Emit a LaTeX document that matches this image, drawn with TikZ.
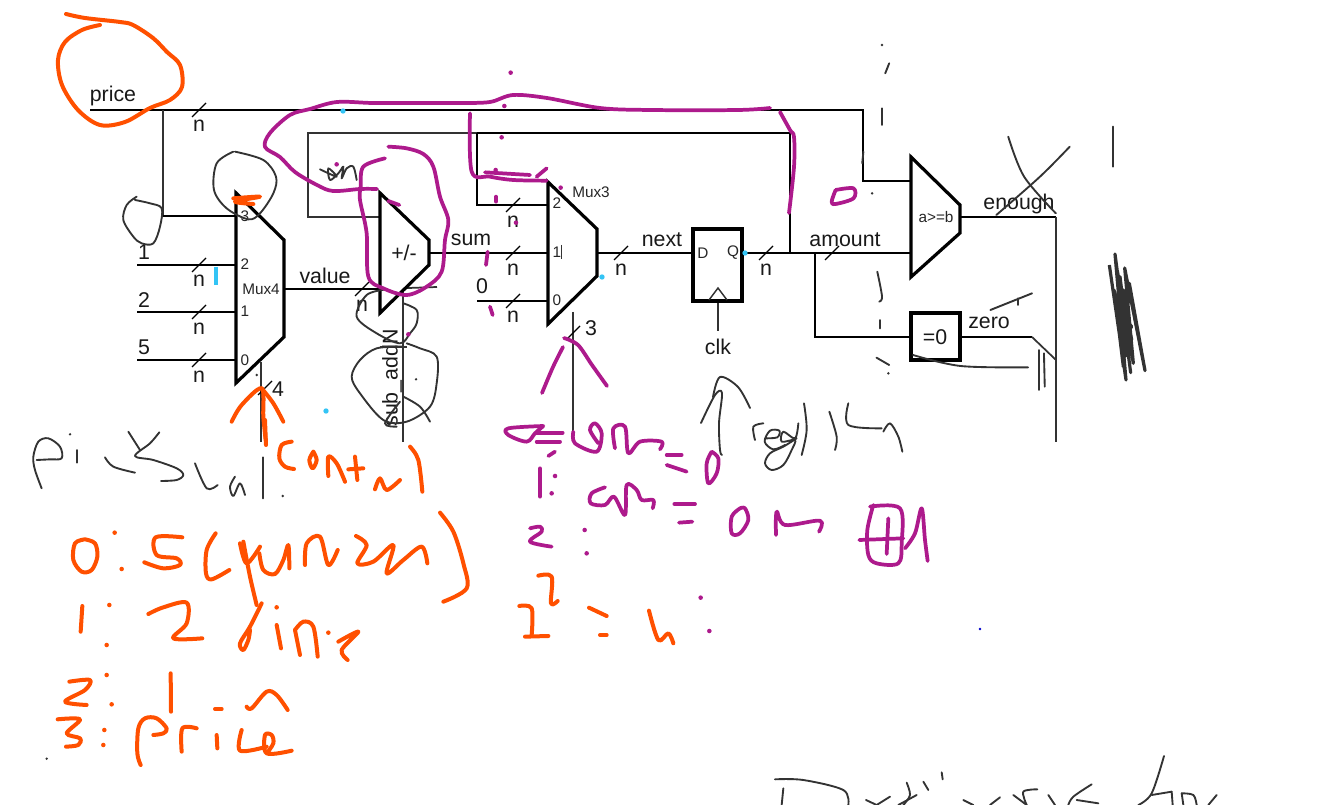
\documentclass[tikz,border=0pt]{standalone}
\usepackage{fontspec}
\setmainfont{Liberation Sans}
\definecolor{orangeink}{HTML}{FF5000}
\definecolor{purpleink}{HTML}{AD1A8C}
\definecolor{greyink}{HTML}{333333}
\definecolor{cyanink}{HTML}{33C4F5}
\newcommand\ink[2][]{\draw[#1] plot[smooth,tension=.55] coordinates {#2};}
\newcommand\inkdots[3][1.7pt]{\foreach \p in {#3}{\fill[#2] \p circle (#1);}}
\newcommand\busmark[1]{\draw[busline] ([shift={(-7,7)}]#1) -- ([shift={(7,-7)}]#1);}
\tikzset{
  wire/.style={line width=1.5pt,black,line join=miter},
  wirethin/.style={line width=1.3pt,greyink},
  block/.style={line width=2.4pt,black,fill=white,line join=miter},
  boxblock/.style={line width=3pt,black,fill=white,line join=miter},
  busline/.style={line width=1pt,black},
  lab/.style={font=\fontsize{16}{16}\selectfont,inner sep=0pt,text=black!90},
  pin/.style={font=\fontsize{11.5}{12}\selectfont,inner sep=0pt,text=black!85},
  orink/.style={line width=3pt,orangeink,line cap=round,line join=round},
  puink/.style={line width=2.8pt,purpleink,line cap=round,line join=round},
  grink/.style={line width=1.4pt,greyink,line cap=round,line join=round}
}
\begin{document}
\begin{tikzpicture}[x=0.75pt,y=-0.75pt]
\useasboundingbox (0,0) rectangle (1321,805);
\clip (0,0) rectangle (1321,805);
\fill[white] (0,0) rectangle (1321,805);
% ---- junctions and ends
\foreach \n/\x/\y in {pa/90/110,pb/163/110,pc/863/110,pd/863/181,pe/911/181,pf/163/216,pg/236/216,
 ia/137/265,ib/236/265,ic/137/312,id/236/312,ie/137/360,if/236/360,
 va/284/289,vb/380/289,vc/437/287,sa/403/290,sb/403/442,sc/380/347,sd/407/347,
 la/380/217,lb/308/217,lc/308/133,ld/477/133,le/790/133,lf/790/253,lg/477/205,lh/548/205,
 ma/429/253,mb/548/253,mc/477/301,md/548/301,na/597/253,nb/693/253,qa/742/253,qb/911/253,
 ra/815/253,rb/815/337,rc/911/337,ea/960/217,eb/1056/217,ec/1056/442,za/960/337,zb/1032/337,zc/1056/360,
 sela/261/362,selb/261/442,selc/573/312,seld/573/436,ca/718/331,cb/718/301,
 b1/199/110,b2/199/265,b3/199/312,b4/199/360,b5/362/289,b6/513/205,b7/513/253,b8/513/301,
 b9/621/253,b10/766/253,b11/832/253,b12/265/388,b13/573/333}{\coordinate (\n) at (\x,\y);}
% ---- wires
\draw[wire] (pa) -- (pc) -- (pd) -- (pe);
\draw[wirethin] (pb) -- (pf);
\draw[wire] (pf) -- (pg);
\draw[wire] (ia) -- (ib);
\draw[wire] (ic) -- (id);
\draw[wire] (ie) -- (if);
\draw[wire] (va) -- (vb);
\draw[wirethin] (vb) -- (vc);
\draw[wirethin] (sa) -- (sb);
\draw[wirethin] (sc) -- (sd);
\draw[wirethin] (la) -- (lb) -- (lc) -- (ld);
\draw[wire] (ld) -- (le) -- (lf);
\draw[wire] (ld) -- (lg) -- (lh);
\draw[wire] (ma) -- (mb);
\draw[wire] (mc) -- (md);
\draw[wire] (na) -- (nb);
\draw[wire] (qa) -- (qb);
\draw[wire] (ra) -- (rb) -- (rc);
\draw[wire] (ea) -- (eb);
\draw[wirethin] (eb) -- (ec);
\draw[wire] (za) -- (zb);
\draw[wirethin] (zb) -- (zc);
\draw[wirethin] (sela) -- (selb);
\draw[wirethin] (selc) -- (seld);
\draw[wirethin] (ca) -- (cb);
\foreach \n in {b1,b2,b3,b4,b5,b6,b7,b8,b9,b10,b11,b12,b13}{\busmark{\n}}
% ---- blocks
\draw[block] (236,193) -- (284,240) -- (284,337) -- (236,383) -- cycle;
\draw[block] (380,193) -- (429,240) -- (429,265) -- (380,313) -- cycle;
\draw[block] (548,182) -- (597,229) -- (597,276) -- (548,324) -- cycle;
\draw[block] (911,157) -- (960,205) -- (960,233) -- (911,277) -- cycle;
\draw[boxblock] (693,229) rectangle (742,301);
\draw[boxblock] (911,313) rectangle (960,360);
\draw[line width=1.1pt,greyink] (709,300) -- (718,288) -- (727,300);
% ---- labels
\node[lab] (tprice) at (113,96) {price};
\node[lab] (tn1) at (199,126) {n};
\node[lab] (tn2) at (199,281) {n};
\node[lab] (tn3) at (199,329) {n};
\node[lab] (tn4) at (199,377) {n};
\node[lab] (ti1) at (144,252) {1};
\node[lab] (ti2) at (144,300) {2};
\node[lab] (ti5) at (144,347) {5};
\node[pin] (p43) at (245,216) {3};
\node[pin] (p42) at (245,264) {2};
\node[pin] (p41) at (245,311) {1};
\node[pin] (p40) at (245,360) {0};
\node[pin] (tmux4) at (261,289) {Mux4};
\node[lab] (tvalue) at (325,276) {value};
\node[lab] (tnv) at (362,306) {n};
\node[lab] (tpm) at (404,253) {+/-};
\node[lab,rotate=90] (tsub) at (392,378) {sub\_addN};
\node[lab] (tsum) at (471,240) {sum};
\node[lab] (tzero) at (482,286) {0};
\node[lab] (tn5) at (513,222) {n};
\node[lab] (tn6) at (513,270) {n};
\node[lab] (tn7) at (513,317) {n};
\node[pin] (p32) at (557,203) {2};
\node[pin] (p31) at (557,252) {1};
\draw[line width=.5pt,greyink] (561.5,245) -- (561.5,259);
\node[pin] (p30) at (557,300) {0};
\node[pin] (tmux3) at (591,192) {Mux3};
\node[lab] (tn8) at (621,270) {n};
\node[lab] (tnext) at (662,240) {next};
\node[pin] (tD) at (703,253) {D};
\node[pin] (tQ) at (733,253) {Q};
\node[lab] (tclk) at (718,347) {clk};
\node[lab] (tn9) at (766,270) {n};
\node[lab] (tamount) at (845,240) {amount};
\node[pin] (tcmp) at (936,217) {a>=b};
\node[lab] (teq) at (935,337) {=0};
\node[lab] (tenough) at (1019,204) {enough};
\node[lab] (tz) at (989,323) {zero};
\node[lab] (tsel4) at (278,389) {4};
\node[lab] (tsel3) at (591,328) {3};
% ---- cyan marks
\foreach \p in {(343,111),(326,411),(745,253),(602,277)}{\fill[cyanink] \p circle (2pt);}
\draw[line width=3pt,cyanink] (216,267) -- (216,285);
\fill[blue!80!black] (980,629) circle (1pt);
% ---- zone 1: reference x=120+X/3, y=Y/3
\begin{scope}[shift={(120,0)},x=.25pt,y=-.25pt]
\ink[grink]{(50,590) (20,615) (10,660) (40,710) (65,730) (100,730) (120,680) (125,625) (90,610) (45,600)}
\ink[grink]{(340,455) (290,490) (282,570) (320,625) (385,658) (420,640) (460,580) (468,530) (430,480) (345,455)}
\ink[grink]{(600,508) (650,530) (625,505) (630,540) (655,520) (670,500) (665,535) (680,505) (700,500) (710,540)}
\ink[grink]{(800,868) (740,885) (710,950) (770,1000) (840,1030) (870,1000) (890,970) (890,930) (850,910)}
\ink[grink]{(860,1030) (900,1045) (950,1070) (950,1150) (930,1220) (860,1265) (790,1260) (720,1180) (695,1130) (720,1080) (770,1045) (850,1040)}
\ink[grink]{(850,1190) (900,1220) (930,1265)}
\ink[grink]{(840,1205) (795,1270) (830,1280)}
\inkdots[1pt]{greyink}{(888,1138),(410,1125)}
\ink[orink]{(340,595) (420,590) (345,605) (400,612)}
\ink[orink]{(335,1265) (365,1215) (425,1165) (430,1250) (437,1320)}
\ink[orink]{(425,1165) (460,1210) (490,1265)}
\ink[puink]{(795,475) (730,500) (722,560) (720,600) (740,700) (745,830) (790,865) (860,885) (920,860) (965,815) (975,720) (985,660) (960,590) (940,500) (910,462) (860,445) (805,440)}
\ink[puink]{(805,603) (838,615)}
\ink[puink]{(1050,340) (1055,515) (1110,530) (1180,540) (1280,542)}
\ink[puink]{(1095,517) (1230,525)}
\ink[puink]{(1250,530) (1280,505)}
\ink[puink]{(1128,590) (1128,605)}
\ink[puink]{(1103,755) (1098,795)}
\ink[puink]{(1110,920) (1118,945)}
\inkdots{purpleink}{(1172,218),(1153,318),(1145,412),(1127,510),(650,493),(1188,668),(1322,563),(865,1003)}
\end{scope}
% ---- long ink strokes in reference pixels
\ink[orink]{(66,14) (85,18) (120,22) (133,25) (153,38) (167,52) (180,65) (182,87) (170,100) (150,108) (125,122) (100,125) (78,110) (62,85) (58,60) (65,42) (82,30) (100,25)}
\ink[puink]{(377,189) (360,189) (333,191) (317,185) (295,172) (280,157) (265,147) (270,133) (290,115) (310,109) (337,102) (373,103) (420,103) (460,103) (490,102) (513,95) (547,98) (600,108) (651,110) (738,110) (770,108)}
\ink[puink]{(780,112) (790,130) (794,137) (794,167) (789,213)}
\ink[puink]{(563,347) (553,367) (542,393)}
\ink[puink]{(564,338) (578,345) (592,365) (607,386)}
% ---- zone 2: reference x=540+X/2.52, y=30+Y/3
\begin{scope}[shift={(540,30)},x=.2976pt,y=-.25pt]
\ink[grink]{(880,100) (870,130)}
\ink[grink]{(862,235) (862,285)}
\ink[grink]{(815,365) (812,400)}
\ink[grink]{(1443,290) (1443,410)}
\ink[grink]{(1180,320) (1220,440) (1300,550)}
\ink[grink]{(1335,350) (1260,440) (1150,555)}
\ink[grink]{(1135,840) (1240,790)}
\ink[grink]{(1205,805) (1205,825)}
\ink[grink]{(850,725) (862,800) (855,815)}
\ink[grink]{(857,870) (857,895)}
\ink[grink]{(848,983) (880,1005)}
\inkdots[1pt]{greyink}{(862,45),(878,1030),(837,490)}
\ink[grink]{(940,975) (1060,1008) (1230,1012)}
\ink[grink]{(1258,960) (1258,1080)}
\ink[grink]{(1270,970) (1272,1070)}
\ink[puink]{(745,480) (790,475) (790,505) (745,522) (735,515) (745,480)}
\end{scope}
% ---- reg arrow
\ink[grink]{(701,423) (715,395) (722,393) (719,423) (720,450) (722,455)}
\ink[grink]{(713,397) (720,377) (738,387) (750,408)}
% ---- scribble: x=1090+X/3, y=240+Y/3
\begin{scope}[shift={(1090,240)},x=.25pt,y=-.25pt]
\draw[line width=2.4pt,greyink,line join=round] (58,75) -- (108,420) -- (75,42) -- (122,398) -- (82,92) -- (130,370) -- (104,84) -- (165,392) -- (118,130) -- (100,380) -- (72,150) -- (118,340) -- (90,110) -- (95,300) -- (125,260) -- (80,200) -- (105,350) -- (100,150) -- (125,300);
\end{scope}
% ---- zone 3: reference x=20+X/3, y=400+Y/3
\begin{scope}[shift={(20,400)},x=.25pt,y=-.25pt]
\ink[grink]{(65,265) (45,210) (40,170) (55,125) (85,115) (120,140) (125,175) (90,178) (50,180)}
\ink[grink]{(172,150) (172,188)}
\ink[grink]{(255,172) (280,200) (345,218)}
\ink[grink]{(418,97) (390,130) (345,168) (400,180) (470,205) (490,225) (470,240) (423,243)}
\ink[grink]{(325,95) (360,150)}
\ink[grink]{(525,190) (560,265) (593,255)}
\ink[grink]{(645,230) (630,260) (640,288) (660,250) (675,285)}
\ink[grink]{(728,172) (728,295)}
\inkdots[1pt]{greyink}{(150,103),(788,288),(80,1076)}
\ink[orink]{(735,60) (738,135)}
\ink[orink]{(815,125) (785,135) (778,175) (795,200) (822,207)}
\ink[orink]{(880,155) (868,180) (878,205) (890,180) (880,155)}
\ink[orink]{(925,228) (925,170) (950,190) (975,245)}
\ink[orink]{(1005,170) (1012,240)}
\ink[orink]{(985,208) (1030,205)}
\ink[orink]{(1065,268) (1080,235) (1100,270) (1140,240)}
\ink[orink]{(1170,140) (1195,180) (1207,275)}
\ink[orink]{(195,418) (165,430) (160,480) (185,515) (215,510) (232,470) (225,430) (195,418)}
\ink[orink]{(487,412) (407,412) (410,465) (470,475) (480,495) (430,505) (373,487)}
\ink[orink]{(587,400) (560,450) (558,520) (575,538) (628,510)}
\ink[orink]{(660,430) (680,490) (720,440)}
\ink[orink]{(670,425) (690,530) (710,615)}
\ink[orink]{(718,460) (730,510) (765,522) (790,480) (805,435) (808,505)}
\ink[orink]{(855,495) (860,430) (900,410) (925,495) (953,450)}
\ink[orink]{(1008,408) (1040,435) (1012,490) (1060,485) (1120,435) (1100,520) (1150,480) (1205,440) (1222,490)}
\ink[orink]{(1260,338) (1300,395) (1330,490) (1340,565) (1270,605)}
\ink[orink]{(187,618) (182,695)}
\ink[orink]{(385,642) (430,622) (500,608) (500,670) (460,715) (547,715)}
\ink[orink]{(725,610) (690,680) (660,730) (670,750) (685,720) (690,690)}
\ink[orink]{(770,675) (783,745)}
\ink[orink]{(825,690) (840,765)}
\ink[orink]{(825,690) (850,665) (880,680) (893,770)}
\ink[orink]{(955,725) (1015,695) (965,750) (983,780)}
\ink[orink]{(148,845) (210,840) (195,870) (135,905) (200,915)}
\ink[orink]{(452,820) (453,935)}
\ink[orink]{(585,927) (605,927)}
\ink[orink]{(680,920) (695,925) (740,875) (770,885) (803,930)}
\ink[orink]{(113,958) (180,958) (140,1000) (180,1015) (175,1035) (138,1040)}
\ink[orink]{(362,1095) (352,1060) (355,985) (375,955) (410,955) (440,985) (430,1000) (400,1005)}
\ink[orink]{(485,1055) (487,985) (530,985)}
\ink[orink]{(590,1005) (592,1045)}
\ink[orink]{(665,990) (660,1052) (740,1040)}
\ink[orink]{(740,1060) (760,1030) (755,1005) (735,1005) (740,1060) (815,1052)}
\inkdots{orangeink}{(284,398),(305,507),(268,615),(260,735),(770,622),(925,698),(260,825),(275,913),(253,990),(250,1035)}
\end{scope}
% ---- zone 4: reference x=490+X/3, y=400+Y/3
\begin{scope}[shift={(490,400)},x=.25pt,y=-.25pt]
\ink[grink]{(795,120) (790,80) (820,70)}
\ink[grink]{(825,115) (862,112) (868,92) (840,92) (824,125) (850,148) (885,135)}
\ink[grink]{(925,70) (915,115) (880,95) (875,125) (915,120) (905,150) (880,195) (845,210) (825,190) (840,160) (880,140) (920,115)}
\ink[grink]{(942,10) (950,90) (935,165)}
\ink[grink]{(1018,35) (1040,110) (1035,150)}
\ink[grink]{(1075,10) (1075,75) (1175,85)}
\ink[grink]{(1180,95) (1200,70) (1225,110) (1237,155)}
\ink[puink]{(160,78) (55,85) (55,105) (110,125) (135,100) (160,78)}
\ink[puink]{(140,98) (218,98)}
\ink[puink]{(140,125) (210,125)}
\ink[puink]{(175,168) (195,155)}
\ink[puink]{(250,95) (255,130) (320,155) (335,100) (315,70) (300,90) (325,130)}
\ink[puink]{(375,145) (370,85) (405,80) (415,160) (450,125) (515,125) (510,148)}
\ink[puink]{(530,165) (575,165)}
\ink[puink]{(530,195) (590,215)}
\ink[puink]{(665,155) (650,190) (655,250) (680,220) (685,175) (665,155)}
\ink[puink]{(150,205) (150,290)}
\ink[puink]{(345,262) (305,280) (302,310) (345,315) (372,290) (405,345) (410,255) (440,270) (455,300) (490,300) (488,325)}
\ink[puink]{(553,312) (615,312)}
\ink[puink]{(567,368) (607,365)}
\ink[puink]{(750,325) (725,350) (725,400) (750,400) (775,360) (765,325) (750,325)}
\ink[puink]{(858,405) (860,335) (885,375) (990,362) (987,395)}
\ink[puink]{(1140,320) (1230,325) (1235,430) (1225,490) (1160,490) (1135,465) (1132,390) (1150,315)}
\ink[puink]{(1195,355) (1190,462)}
\ink[puink]{(1108,420) (1240,415)}
\ink[puink]{(1245,445) (1275,400) (1295,325) (1305,420) (1313,483)}
\ink[puink]{(120,385) (150,380) (155,395) (120,425) (185,440)}
\inkdots{purpleink}{(195,228),(185,280),(284,390),(290,460),(632,593),(658,693)}
\ink[orink]{(145,527) (185,530) (183,610) (203,603)}
\ink[orink]{(88,618) (125,625) (125,705)}
\ink[orink]{(105,710) (175,708)}
\ink[orink]{(297,623) (350,648)}
\ink[orink]{(330,705) (350,705)}
\ink[orink]{(477,632) (505,720) (535,700) (550,730)}
\end{scope}
% ---- zone 5: reference x=760+X/3, y=740+Y/3
\begin{scope}[shift={(760,740)},x=.25pt,y=-.25pt]
\ink[grink]{(45,118) (130,120) (250,150) (265,195)}
\ink[grink]{(70,145) (65,195)}
\ink[grink]{(318,180) (350,195)}
\ink[grink]{(390,170) (350,195)}
\ink[grink]{(440,128) (450,165) (430,195)}
\ink[grink]{(415,195) (470,165)}
\ink[grink]{(490,125) (505,150)}
\ink[grink]{(545,97) (548,118)}
\ink[grink]{(610,180) (640,195)}
\ink[grink]{(720,172) (690,195)}
\ink[grink]{(760,165) (800,195)}
\ink[grink]{(832,148) (790,155) (800,195)}
\ink[grink]{(865,165) (885,195)}
\ink[grink]{(995,133) (940,170) (925,195)}
\ink[grink]{(950,180) (1015,190)}
\ink[grink]{(1212,48) (1175,160) (1135,195)}
\ink[grink]{(1175,165) (1235,155)}
\ink[grink]{(1235,155) (1238,195)}
\ink[grink]{(1265,160) (1270,195)}
\ink[grink]{(1265,160) (1300,165) (1310,195)}
\ink[grink]{(1370,165) (1345,195)}
\end{scope}
\end{tikzpicture}
\end{document}
